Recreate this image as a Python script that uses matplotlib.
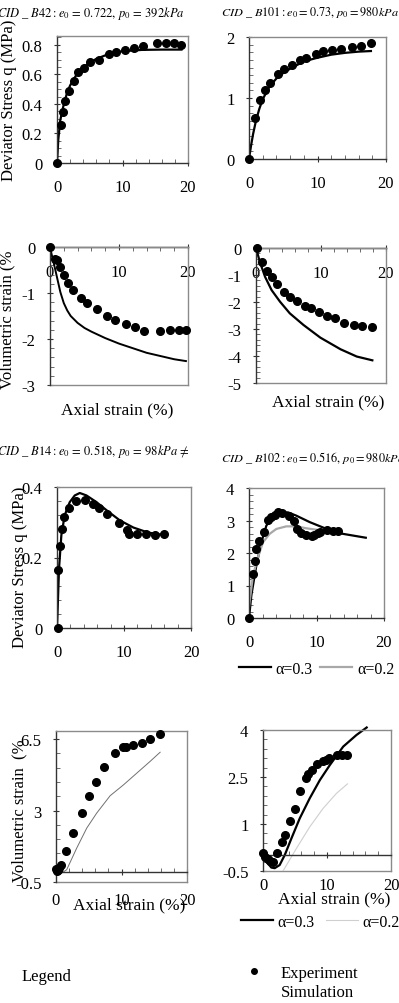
import matplotlib
matplotlib.use('Agg')
import numpy as np
import matplotlib.pyplot as plt
from matplotlib.ticker import MultipleLocator, FixedLocator
from matplotlib.lines import Line2D

plt.rcParams['font.family'] = ['Liberation Serif', 'DejaVu Serif']
plt.rcParams['mathtext.fontset'] = 'stix'

# CID_B42 : deviator stress / volumetric strain vs axial strain (%)
b42_q_exp_x = [0, 0.66, 0.92, 1.27, 1.83, 2.54, 3.2, 4.1, 5.1, 6.4, 7.9, 8.96, 10.4, 11.75, 13.2, 15.2, 16.7, 17.8, 19.0]
b42_q_exp_y = [0, 0.255, 0.345, 0.417, 0.487, 0.552, 0.615, 0.645, 0.683, 0.699, 0.739, 0.755, 0.768, 0.782, 0.795, 0.813, 0.813, 0.813, 0.80]
b42_q_sim_x = [0, 0.2, 0.5, 1, 1.5, 2, 3, 4, 5, 6, 8, 10, 13, 16, 19]
b42_q_sim_y = [0, 0.16, 0.29, 0.39, 0.47, 0.525, 0.60, 0.645, 0.68, 0.705, 0.74, 0.757, 0.766, 0.768, 0.768]
b42_v_exp_x = [0, 0.72, 0.96, 1.45, 2.0, 2.65, 3.37, 4.43, 5.4, 6.75, 8.3, 9.4, 11.0, 12.3, 13.6, 15.9, 17.4, 18.65, 19.66]
b42_v_exp_y = [0, -0.255, -0.29, -0.44, -0.6, -0.79, -0.925, -1.107, -1.216, -1.347, -1.507, -1.588, -1.675, -1.748, -1.828, -1.828, -1.806, -1.806, -1.806]
b42_v_sim_x = [0, 0.3, 0.7, 1, 1.5, 2, 2.5, 3, 4, 5, 6, 8, 10, 12, 14, 16, 18, 19.7]
b42_v_sim_y = [0, -0.2, -0.45, -0.65, -0.98, -1.22, -1.38, -1.5, -1.65, -1.76, -1.84, -1.98, -2.1, -2.2, -2.3, -2.37, -2.44, -2.48]

# CID_B101
b101_q_exp_x = [0, 0.93, 1.66, 2.35, 3.13, 4.3, 5.18, 6.26, 7.43, 8.3, 9.73, 10.86, 12.18, 13.5, 15.0, 16.3, 17.75]
b101_q_exp_y = [0, 0.674, 0.96, 1.13, 1.25, 1.39, 1.48, 1.545, 1.616, 1.655, 1.726, 1.77, 1.79, 1.81, 1.83, 1.86, 1.90]
b101_q_sim_x = [0, 0.3, 0.6, 1, 1.5, 2, 3, 4, 5, 6, 8, 10, 12, 14, 16, 17.8]
b101_q_sim_y = [0, 0.22, 0.41, 0.62, 0.82, 0.98, 1.19, 1.32, 1.41, 1.48, 1.6, 1.66, 1.71, 1.74, 1.76, 1.77]
b101_v_exp_x = [0.1, 0.98, 1.65, 2.42, 3.19, 4.37, 5.24, 6.38, 7.56, 8.43, 9.72, 10.9, 12.2, 13.6, 15.0, 16.3, 17.8]
b101_v_exp_y = [0, -0.516, -0.85, -1.07, -1.34, -1.62, -1.82, -1.97, -2.14, -2.24, -2.38, -2.52, -2.60, -2.76, -2.86, -2.9, -2.92]
b101_v_sim_x = [0, 0.6, 1.4, 2.4, 3.7, 5.2, 7.3, 9.9, 13, 15.5, 17.9]
b101_v_sim_y = [0, -0.52, -1.07, -1.56, -1.99, -2.42, -2.85, -3.32, -3.75, -4.02, -4.16]

# CID_B14
b14_q_exp_x = [0.15, 0.2, 0.45, 0.7, 1.05, 1.8, 2.8, 4.2, 5.4, 6.3, 7.5, 9.2, 10.5, 10.8, 11.9, 13.25, 14.65, 16.0]
b14_q_exp_y = [0, 0.165, 0.232, 0.28, 0.315, 0.34, 0.361, 0.363, 0.353, 0.34, 0.324, 0.299, 0.277, 0.268, 0.268, 0.268, 0.263, 0.268]
b14_q_sim_x = [0, 0.3, 0.65, 1.15, 1.9, 2.65, 3.4, 4.4, 5.9, 7.4, 9.4, 11.4, 13.4, 14.9, 16.15]
b14_q_sim_y = [0, 0.168, 0.263, 0.32, 0.357, 0.376, 0.383, 0.376, 0.357, 0.334, 0.305, 0.285, 0.272, 0.266, 0.265]
b14_v_exp_x = [0, 0.1, 0.36, 0.5, 0.77, 1.53, 2.65, 3.93, 5.1, 6.07, 7.35, 9.03, 10.3, 10.7, 11.7, 13.1, 14.4, 15.9]
b14_v_exp_y = [0.15, 0.05, 0.1, 0.18, 0.35, 1.0, 1.9, 2.87, 3.7, 4.42, 5.15, 5.8, 6.1, 6.14, 6.22, 6.29, 6.5, 6.74]
b14_v_sim_x = [0.9, 1.63, 3.16, 4.69, 6.22, 8.27, 10.3, 12.35, 14.4, 15.9]
b14_v_sim_y = [-0.05, 0.1, 1.16, 2.14, 2.88, 3.73, 4.26, 4.84, 5.42, 5.86]

# CID_B102 (two alpha values)
b102_q_exp_x = [0, 0.6, 0.84, 1.09, 1.48, 2.17, 2.81, 3.31, 3.8, 4.3, 4.94, 5.93, 6.67, 7.16, 7.75, 8.5, 9.3, 9.7, 10.2, 10.57, 11.56, 12.44, 13.2]
b102_q_exp_y = [0, 1.34, 1.74, 2.11, 2.38, 2.66, 3.02, 3.12, 3.18, 3.25, 3.22, 3.15, 2.97, 2.74, 2.62, 2.54, 2.52, 2.54, 2.62, 2.66, 2.71, 2.69, 2.69]
b102_q_a3_x = [0, 0.35, 1.09, 1.83, 2.57, 3.56, 4.54, 5.78, 7.0, 9.0, 11.5, 13.9, 17.3]
b102_q_a3_y = [0, 0.7, 1.62, 2.33, 2.84, 3.15, 3.25, 3.25, 3.15, 2.95, 2.74, 2.59, 2.47]
b102_q_a2_x = [0, 0.59, 1.33, 2.07, 3.06, 4.05, 5.53, 7.0, 8.5, 10.2, 10.5]
b102_q_a2_y = [0.35, 1.31, 1.87, 2.33, 2.59, 2.74, 2.82, 2.82, 2.76, 2.71, 2.70]
b102_v_exp_x = [0, 0.37, 0.78, 1.15, 1.57, 2.19, 3.03, 3.45, 4.18, 4.96, 5.74, 6.68, 7.05, 7.68, 8.46, 9.3, 9.8, 10.34, 11.5, 12.4, 13.2]
b102_v_exp_y = [0.06, -0.04, -0.12, -0.18, -0.2, 0.085, 0.44, 0.65, 1.1, 1.48, 2.06, 2.46, 2.6, 2.73, 2.9, 3.01, 3.05, 3.1, 3.2, 3.2, 3.2]
b102_v_a3_x = [0, 0.52, 1.3, 1.83, 2.6, 3.4, 4.44, 5.74, 7.3, 8.88, 10.44, 12.53, 14.6, 16.2]
b102_v_a3_y = [0.06, -0.2, -0.39, -0.41, -0.31, 0.01, 0.54, 1.18, 1.82, 2.4, 2.88, 3.47, 3.84, 4.08]
b102_v_a2_x = [3.13, 5.22, 7.31, 9.4, 11.49, 13.2]
b102_v_a2_y = [-0.5, 0.22, 0.91, 1.5, 1.98, 2.28]

W, H = 399, 1004
fig = plt.figure(figsize=(W / 100, H / 100), dpi=100)


def add_ax(l, r, t, b):
    return fig.add_axes([l / W, 1 - b / H, (r - l) / W, (b - t) / H])


def style(ax, ylim, yticks, yminor, zero_axis=False, xpad=9, minor_dir='in'):
    ax.set_xlim(0, 20)
    ax.set_ylim(*ylim)
    ax.xaxis.set_major_locator(MultipleLocator(10))
    ax.xaxis.set_minor_locator(MultipleLocator(2))
    ax.set_yticks(yticks)
    ax.set_yticklabels(['%g' % v for v in yticks])
    ax.yaxis.set_minor_locator(FixedLocator(np.arange(ylim[0], ylim[1] + 1e-6, yminor)))
    for s in ['top', 'right']:
        ax.spines[s].set_color('#8a8a8a')
        ax.spines[s].set_linewidth(1.0)
    for s in ['left', 'bottom']:
        ax.spines[s].set_color('#333333')
        ax.spines[s].set_linewidth(1.0)
    ax.tick_params(which='major', direction='inout', length=5, width=0.8, color='#333333', labelsize=12)
    ax.tick_params(which='minor', direction='in', length=3, width=0.6, color='#555555')
    ax.tick_params(axis='y', pad=8)
    ax.tick_params(axis='x', pad=xpad)
    if minor_dir != 'in':
        ax.tick_params(axis='x', which='minor', direction=minor_dir)
    if zero_axis:
        ax.spines['bottom'].set_position(('data', 0))
        ax.plot([0, 1], [0, 0], transform=ax.transAxes, color='#8a8a8a', lw=1.0, clip_on=False)


def exp(ax, x, y):
    ax.plot(x, y, 'o', color='black', ms=5.5, clip_on=False, zorder=3)


def ylab(x, y, s):
    fig.text(x / W, 1 - y / H, s, rotation=90, ha='center', va='center', fontsize=12)


def xlab(x, y, s):
    fig.text(x / W, 1 - y / H, s, ha='center', va='center', fontsize=12.5)


def title(x, y, s, size=9):
    fig.text(x / W, 1 - y / H, s, ha='left', va='center', fontsize=size)


# ---- row 1: B42 / B101 deviator stress
ax1 = add_ax(57, 188, 37, 164)
style(ax1, (0, 0.86), [0, 0.2, 0.4, 0.6, 0.8], 0.05)
ax1.plot(b42_q_sim_x, b42_q_sim_y, color='black', lw=1.6)
exp(ax1, b42_q_exp_x, b42_q_exp_y)

ax2 = add_ax(249, 386, 38, 160)
style(ax2, (0, 2), [0, 1, 2], 0.125)
ax2.plot(b101_q_sim_x, b101_q_sim_y, color='black', lw=1.6)
exp(ax2, b101_q_exp_x, b101_q_exp_y)

# ---- row 2: volumetric strain
ax3 = add_ax(50, 188, 248, 386)
style(ax3, (-3, 0), [-3, -2, -1, 0], 0.2, zero_axis=True, xpad=10, minor_dir='out')
ax3.plot(b42_v_sim_x, b42_v_sim_y, color='black', lw=1.4)
exp(ax3, b42_v_exp_x, b42_v_exp_y)

ax4 = add_ax(256, 386, 249, 384)
style(ax4, (-5, 0), [-5, -4, -3, -2, -1, 0], 0.2, zero_axis=True, xpad=10, minor_dir='out')
ax4.plot(b101_v_sim_x, b101_v_sim_y, color='black', lw=1.6)
exp(ax4, b101_v_exp_x, b101_v_exp_y)

# ---- row 3: B14 / B102 deviator stress
ax5 = add_ax(57, 191, 488, 629)
style(ax5, (0, 0.4), [0, 0.2, 0.4], 0.04)
ax5.plot(b14_q_sim_x, b14_q_sim_y, color='black', lw=1.6)
exp(ax5, b14_q_exp_x, b14_q_exp_y)

ax6 = add_ax(249, 384, 489, 619)
style(ax6, (0, 4), [0, 1, 2, 3, 4], 0.2)
l3, = ax6.plot(b102_q_a3_x, b102_q_a3_y, color='black', lw=1.6)
l2, = ax6.plot(b102_q_a2_x, b102_q_a2_y, color='#a8a8a8', lw=1.6)
exp(ax6, b102_q_exp_x, b102_q_exp_y)
ax6.legend([l3, l2], ['α=0.3', 'α=0.2'], ncol=2, loc='center', bbox_to_anchor=(0.5, -0.39),
           frameon=False, fontsize=11.5, handlelength=2.0, handletextpad=0.3, columnspacing=0.5,
           borderpad=0)

# ---- row 4: volumetric strain
ax7 = add_ax(56, 187, 732, 883)
style(ax7, (-0.5, 6.9), [-0.5, 3, 6.5], 0.7, zero_axis=True, xpad=12)
ax7.plot(b14_v_sim_x, b14_v_sim_y, color='#707070', lw=0.7)
exp(ax7, b14_v_exp_x, b14_v_exp_y)

ax8 = add_ax(263, 391, 731, 872)
style(ax8, (-0.5, 4), [-0.5, 1, 2.5, 4], 0.3, zero_axis=True, xpad=13)
m3, = ax8.plot(b102_v_a3_x, b102_v_a3_y, color='black', lw=1.6, clip_on=False)
m2, = ax8.plot(b102_v_a2_x, b102_v_a2_y, color='#cfcfcf', lw=0.8)
exp(ax8, b102_v_exp_x, b102_v_exp_y)
ax8.legend([m3, m2], ['α=0.3', 'α=0.2'], ncol=2, loc='center', bbox_to_anchor=(0.45, -0.36),
           frameon=False, fontsize=11.5, handlelength=2.0, handletextpad=0.3, columnspacing=0.7,
           borderpad=0)

# ---- axis labels
ylab(9, 100, 'Deviator Stress q (MPa)')
ylab(7, 320, 'Volumetric strain (%')
ylab(20, 567, 'Deviator Stress q (MPa)')
ylab(19, 811, 'Volumetric strain  (%')
xlab(117, 410, 'Axial strain (%)')
xlab(328, 402, 'Axial strain (%)')
xlab(129, 905, 'Axial strain (%)')
xlab(334, 899, 'Axial strain (%)')

# ---- panel titles
title(-3, 14, r'$CID\ \_\ B42:e_0\,=\,0.722,\,p_0\,=\,392kPa$')
title(221, 12, r'$CID\ \_\ B101:e_0=0.73,\,p_0=980kPa$', 8.8)
title(-3, 452, r'$CID\ \_\ B14:e_0\,=\,0.518,\,p_0\,=\,98kPa\,\neq$')
title(221, 458, r'$CID\ \_\ B102:e_0=0.516,\,p_0=980kPa$', 8.8)

# ---- overall legend
fig.text(22 / W, 1 - 977 / H, 'Legend', ha='left', va='center', fontsize=12)
fig.legend([Line2D([], [], ls='none', marker='o', color='black', ms=4),
            Line2D([], [], ls='none')],
           ['Experiment', 'Simulation'], loc='upper left', bbox_to_anchor=(246 / W, 1 - 966 / H),
           frameon=False, fontsize=12, handlelength=1.0, handletextpad=1.1, labelspacing=0.2,
           borderpad=0, borderaxespad=0)

fig.savefig('out.png', dpi=100)
